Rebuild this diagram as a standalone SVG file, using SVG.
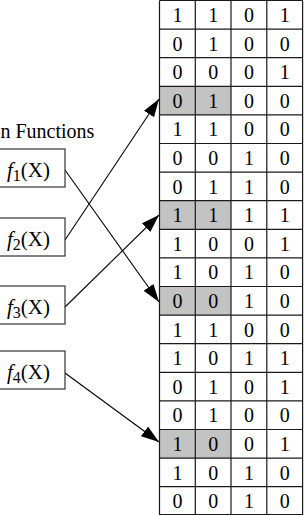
<svg xmlns="http://www.w3.org/2000/svg" width="304" height="515" viewBox="0 0 304 515">
<style>
.t{font-family:"Liberation Serif","Times New Roman",serif;fill:#000}
.d{font-size:20px;text-anchor:middle}
.g{stroke:#1a1a1a;stroke-width:1.2;fill:none}
.sh{fill:#c3c3c3}
.box{fill:#fff;stroke:#333;stroke-width:1.2}
.lbl{font-size:21px}
.sub{font-size:16px}
.c{stroke:#000;stroke-width:1.1;fill:none;marker-end:url(#ah)}
</style>
<defs>
<marker id="ah" viewBox="0 0 18 12" refX="18" refY="6" markerWidth="18" markerHeight="12" markerUnits="userSpaceOnUse" orient="auto">
<path d="M0,0 L18,6 L0,12 z" fill="#000"/>
</marker>
</defs>
<rect width="304" height="515" fill="#fff"/>
<text class="t" x="0.5" y="137.5" font-size="20">n Functions</text>
<g id="table">
<rect class="sh" x="159.5" y="86.3" width="71.5" height="28.6"/>
<rect class="sh" x="159.5" y="200.7" width="71.5" height="28.6"/>
<rect class="sh" x="159.5" y="286.5" width="71.5" height="28.6"/>
<rect class="sh" x="159.5" y="429.5" width="71.5" height="28.6"/>
<path class="g" d="M159.5,0.5V515 M195.3,0.5V515 M231,0.5V515 M266.8,0.5V515 M302.6,0.5V515
M159.5,0.5H302.6 M159.5,29.1H302.6 M159.5,57.7H302.6 M159.5,86.3H302.6 M159.5,114.9H302.6 M159.5,143.5H302.6 M159.5,172.1H302.6 M159.5,200.7H302.6 M159.5,229.3H302.6 M159.5,257.9H302.6 M159.5,286.5H302.6 M159.5,315.1H302.6 M159.5,343.7H302.6 M159.5,372.3H302.6 M159.5,400.9H302.6 M159.5,429.5H302.6 M159.5,458.1H302.6 M159.5,486.7H302.6 M159.5,514.5H302.6"/>
<g class="t d">
<text x="177.4" y="22">1</text><text x="213.2" y="22">1</text><text x="248.9" y="22">0</text><text x="284.7" y="22">1</text>
<text x="177.4" y="50.6">0</text><text x="213.2" y="50.6">1</text><text x="248.9" y="50.6">0</text><text x="284.7" y="50.6">0</text>
<text x="177.4" y="79.2">0</text><text x="213.2" y="79.2">0</text><text x="248.9" y="79.2">0</text><text x="284.7" y="79.2">1</text>
<text x="177.4" y="107.8">0</text><text x="213.2" y="107.8">1</text><text x="248.9" y="107.8">0</text><text x="284.7" y="107.8">0</text>
<text x="177.4" y="136.4">1</text><text x="213.2" y="136.4">1</text><text x="248.9" y="136.4">0</text><text x="284.7" y="136.4">0</text>
<text x="177.4" y="165">0</text><text x="213.2" y="165">0</text><text x="248.9" y="165">1</text><text x="284.7" y="165">0</text>
<text x="177.4" y="193.6">0</text><text x="213.2" y="193.6">1</text><text x="248.9" y="193.6">1</text><text x="284.7" y="193.6">0</text>
<text x="177.4" y="222.2">1</text><text x="213.2" y="222.2">1</text><text x="248.9" y="222.2">1</text><text x="284.7" y="222.2">1</text>
<text x="177.4" y="250.8">1</text><text x="213.2" y="250.8">0</text><text x="248.9" y="250.8">0</text><text x="284.7" y="250.8">1</text>
<text x="177.4" y="279.4">1</text><text x="213.2" y="279.4">0</text><text x="248.9" y="279.4">1</text><text x="284.7" y="279.4">0</text>
<text x="177.4" y="308">0</text><text x="213.2" y="308">0</text><text x="248.9" y="308">1</text><text x="284.7" y="308">0</text>
<text x="177.4" y="336.6">1</text><text x="213.2" y="336.6">1</text><text x="248.9" y="336.6">0</text><text x="284.7" y="336.6">0</text>
<text x="177.4" y="365.2">1</text><text x="213.2" y="365.2">0</text><text x="248.9" y="365.2">1</text><text x="284.7" y="365.2">1</text>
<text x="177.4" y="393.8">0</text><text x="213.2" y="393.8">1</text><text x="248.9" y="393.8">0</text><text x="284.7" y="393.8">1</text>
<text x="177.4" y="422.4">0</text><text x="213.2" y="422.4">1</text><text x="248.9" y="422.4">0</text><text x="284.7" y="422.4">0</text>
<text x="177.4" y="451">1</text><text x="213.2" y="451">0</text><text x="248.9" y="451">0</text><text x="284.7" y="451">1</text>
<text x="177.4" y="479.6">1</text><text x="213.2" y="479.6">0</text><text x="248.9" y="479.6">1</text><text x="284.7" y="479.6">0</text>
<text x="177.4" y="508.2">0</text><text x="213.2" y="508.2">0</text><text x="248.9" y="508.2">1</text><text x="284.7" y="508.2">0</text>
</g>
</g>
<g id="connectors">
<line class="c" x1="65" y1="170" x2="159" y2="302"/>
<line class="c" x1="65" y1="240" x2="159" y2="99"/>
<line class="c" x1="65" y1="307" x2="159" y2="215"/>
<line class="c" x1="65" y1="373" x2="159" y2="442"/>
</g>
<g id="f1">
<rect class="box" x="-10" y="149" width="75" height="38"/>
<text class="t lbl" x="7" y="177"><tspan font-style="italic">f</tspan><tspan class="sub" dy="4">1</tspan><tspan dy="-4">(X)</tspan></text>
</g>
<g id="f2">
<rect class="box" x="-10" y="218" width="75" height="38"/>
<text class="t lbl" x="7" y="246"><tspan font-style="italic">f</tspan><tspan class="sub" dy="4">2</tspan><tspan dy="-4">(X)</tspan></text>
</g>
<g id="f3">
<rect class="box" x="-10" y="286" width="75" height="38"/>
<text class="t lbl" x="7" y="314"><tspan font-style="italic">f</tspan><tspan class="sub" dy="4">3</tspan><tspan dy="-4">(X)</tspan></text>
</g>
<g id="f4">
<rect class="box" x="-10" y="351" width="75" height="38"/>
<text class="t lbl" x="7" y="379"><tspan font-style="italic">f</tspan><tspan class="sub" dy="4">4</tspan><tspan dy="-4">(X)</tspan></text>
</g>
</svg>
